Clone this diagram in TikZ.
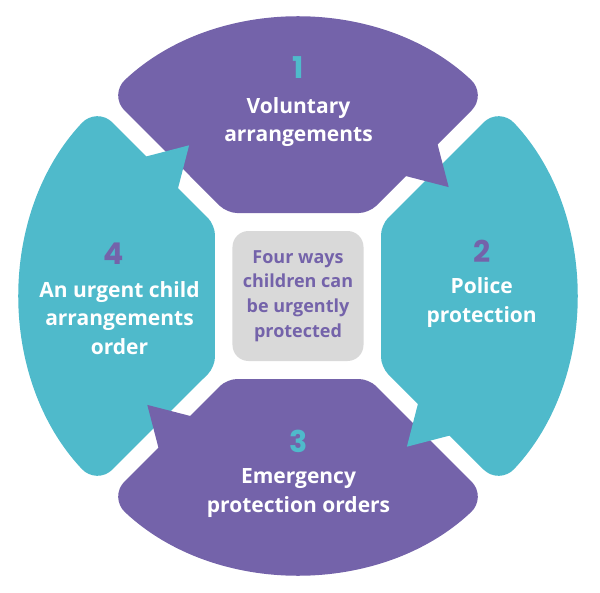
\documentclass[tikz,border=0pt]{standalone}
\usepackage{fontspec}
\setmainfont{Open Sans}
\newfontfamily\numfont{Poppins}
\definecolor{ringpurple}{RGB}{116,99,170}
\definecolor{ringteal}{RGB}{79,186,203}
\definecolor{boxgray}{RGB}{217,217,217}
\tikzset{
  waynum/.style={font=\numfont\bfseries\fontsize{30}{30}\selectfont},
  wayname/.style={text=white, align=center, font=\bfseries\fontsize{21}{28.5}\selectfont},
}
\begin{document}
\begin{tikzpicture}[x=1pt,y=1pt]
\useasboundingbox (-298,-296) rectangle (302,296);
% Ring parts
\fill[ringpurple] [rounded corners=10] (-71,83) -- (71,83) [rounded corners=22] -- (189.07,201.07) arc[start angle=46.76, end angle=133.24, radius=276] [rounded corners=10] -- cycle;
\fill[ringteal, rotate=-90] [rounded corners=10] (-71,83) -- (71,83) [rounded corners=22] -- (189.07,201.07) arc[start angle=46.76, end angle=133.24, radius=276] [rounded corners=10] -- cycle;
\fill[ringpurple, rotate=-180] [rounded corners=10] (-71,83) -- (71,83) [rounded corners=22] -- (189.07,201.07) arc[start angle=46.76, end angle=133.24, radius=276] [rounded corners=10] -- cycle;
\fill[ringteal, rotate=-270] [rounded corners=10] (-71,83) -- (71,83) [rounded corners=22] -- (189.07,201.07) arc[start angle=46.76, end angle=133.24, radius=276] [rounded corners=10] -- cycle;
% Arrow tips
\fill[ringpurple] (105.7,120.5) -- (150.7,108.9) -- (139,153.8) -- cycle;
\fill[ringteal, rotate=-90] (105.7,120.5) -- (150.7,108.9) -- (139,153.8) -- cycle;
\fill[ringpurple, rotate=-180] (105.7,120.5) -- (150.7,108.9) -- (139,153.8) -- cycle;
\fill[ringteal, rotate=-270] (105.7,120.5) -- (150.7,108.9) -- (139,153.8) -- cycle;
% Centre
\node[fill=boxgray, rounded corners=16, minimum width=131pt, minimum height=130pt, inner sep=0pt,
  text=ringpurple, align=center, font=\bfseries\fontsize{18}{24.7}\selectfont] (centre) at (0,0)
  {Four ways\\children can\\be urgently\\protected};
% Numbers
\node[waynum, text=ringteal] (one) at (0.5,228) {1};
\node[waynum, text=ringpurple] (two) at (183.7,44.5) {2};
\node[waynum, text=ringteal] (three) at (0.5,-145) {3};
\node[waynum, text=ringpurple] (four) at (-184,42) {4};
% Labels
\node[wayname] (voluntary) at (0.5,174) {Voluntary\\arrangements};
\node[wayname] (police) at (183.7,-6.5) {Police\\protection};
\node[wayname] (emergency) at (0.5,-197) {Emergency\\protection orders};
\node[wayname] (urgent) at (-178.5,-22) {An urgent child\\arrangements\\order};
\end{tikzpicture}
\end{document}
